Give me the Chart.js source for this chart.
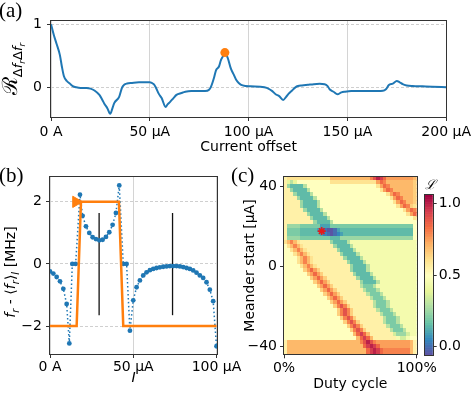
<!DOCTYPE html>
<html><head><meta charset="utf-8">
<script src="https://cdn.jsdelivr.net/npm/chart.js@4.4.1/dist/chart.umd.min.js"></script>
<style>
html,body{margin:0;padding:0;background:#fff;}
body{width:474px;height:394px;position:relative;overflow:hidden;font-family:'DejaVu Sans',sans-serif;}
canvas{position:absolute;}
.lbl{position:absolute;white-space:nowrap;color:#000;line-height:1;}
.panel{font-family:'Liberation Serif','DejaVu Serif',serif;font-size:21px;}
.rot{transform:translate(-50%,-50%) rotate(-90deg);transform-origin:center;}
sub{vertical-align:baseline;position:relative;top:0.35em;}
</style></head><body>
<canvas id="ca" width="474" height="160" style="left:0;top:0;width:474px;height:160px"></canvas>
<canvas id="cb" width="250" height="234" style="left:0;top:160px;width:250px;height:234px"></canvas>
<canvas id="cc" width="249" height="234" style="left:225px;top:160px;width:249px;height:234px"></canvas>
<canvas id="cbar" width="54" height="200" style="left:420px;top:175px;width:54px;height:200px"></canvas>
<div class="lbl panel" style="left:-1px;top:0px">(a)</div>
<div class="lbl panel" style="left:-1px;top:165px">(b)</div>
<div class="lbl panel" style="left:231px;top:165px">(c)</div>
<div class="lbl rot" style="left:10px;top:69px;font-size:21px;font-family:'DejaVu Serif',serif;">ℛ<sub style="font-size:13px;font-family:'DejaVu Sans',sans-serif;">Δ<i>f</i><sub style="font-size:9px"><i>r</i></sub>Δ<i>f</i><sub style="font-size:9px"><i>r</i></sub></sub></div>
<div class="lbl rot" style="left:10px;top:272px;font-size:14px;"><i>f</i><sub style="font-size:10px"><i>r</i></sub> - ⟨<i>f</i><sub style="font-size:10px"><i>r</i></sub>⟩<sub style="font-size:10px"><i>I</i></sub> [MHz]</div>
<div class="lbl" style="left:425px;top:178px;font-size:13px;font-family:'DejaVu Serif',serif;font-style:italic;">ℒ</div>
<script>
// ---------------- DATA ----------------
// (a) correlation vs current offset
const aOffset = [0,1.5,2.8,4.5,5.5,6.5,8,9.5,11,12.8,15,18,20,22,24.5,26,27,28.5,30,31,32,34.5,36,37,38.5,41,44.5,48,50,51,52,53,54.5,56,58,59,60.3,62,63.5,66,68,71,74.5,78,80,81,82.5,83.5,85,86,87,88,89.5,91,92.5,93.7,95,97,101,106,108,110,112,113.7,115.5,117.5,119,120.3,122,123.7,125,127,130,133,136,138.5,140,141,143,145,147,148.7,152,156,162,168,169.5,171,173,175,176.5,178,180,183,188,193,200];
const aR = [1.0,0.82,0.69,0.51,0.33,0.18,0.1,0.06,0.02,0,-0.01,-0.01,-0.02,-0.05,-0.12,-0.2,-0.26,-0.33,-0.42,-0.34,-0.25,-0.15,0,0.04,0.06,0.07,0.08,0.08,0.08,0.07,0.05,0,-0.1,-0.17,-0.31,-0.27,-0.23,-0.17,-0.12,-0.09,-0.07,-0.06,-0.06,-0.06,-0.04,0.01,0.15,0.27,0.33,0.43,0.49,0.55,0.46,0.3,0.2,0.12,0.07,0.03,0.015,0.01,0,-0.02,-0.06,-0.11,-0.14,-0.2,-0.15,-0.1,-0.05,0,0.02,0.03,0.04,0.05,0.055,0.05,0.02,-0.03,-0.07,-0.11,-0.08,-0.07,-0.06,-0.06,-0.06,-0.055,-0.03,0.035,0.06,0.1,0.08,0.05,0.03,0.02,0.015,0.01,0.0];
const aPeakOffset = [88];
const aPeakR = [0.55];
const aXTicks = [0,50,100,150,200];
const aXLabels = ['0 A','50 µA','100 µA','150 µA','200 µA'];
const aYTicks = [0,1];
const aYLabels = ['0','1'];

// (b) resonance shift vs current
const bCurrent = [0,2,4,6,8,10,11.6,13.4,15.4,18,19.6,21.6,23.6,25.6,27.6,29.6,31.6,33.6,35.6,37.6,39.6,41.6,44,46,48,50,52,54,56,58,60,62,64,66,68,70,72,74,76,78,80,82,84,86,88,90,92,94,96,98,100];
const bShift = [-0.24,-0.31,-0.42,-0.56,-0.8,-1.29,-2.56,0,0,2.23,1.55,1.21,1.0,0.86,0.8,0.76,0.78,0.87,1.02,1.26,1.64,2.53,0,0,-2.15,-1.17,-0.75,-0.53,-0.37,-0.27,-0.2,-0.16,-0.13,-0.11,-0.09,-0.08,-0.07,-0.07,-0.07,-0.08,-0.1,-0.13,-0.16,-0.21,-0.28,-0.37,-0.45,-0.59,-0.83,-1.2,-2.65];
const meanderI = [0,16,18.6,41.4,44,100];
const meanderF = [-2,-2,2,2,-2,-2];
const markerI = [15.6];
const markerF = [2];
const barI = [29.5,73.6];
const barLow = [-1.65,-1.65];
const barHigh = [1.64,1.64];
const bXTicks = [0,50,100];
const bXLabels = ['0 A','50 µA','100 µA'];
const bYTicks = [-2,0,2];
const bYLabels = ['\u22122','0','2'];

// (c) loss map: duty cycle (columns) x meander start (rows)
const dutyCenters = [1.25,3.75,6.25,8.75,11.25,13.75,16.25,18.75,21.25,23.75,26.25,28.75,31.25,33.75,36.25,38.75,41.25,43.75,46.25,48.75,51.25,53.75,56.25,58.75,61.25,63.75,66.25,68.75,71.25,73.75,76.25,78.75,81.25,83.75,86.25,88.75,91.25,93.75,96.25,98.75];
const startCenters = [44,42,40,38,36,34,32,30,28,26,24,22,20,18,16,14,12,10,8,6,4,2,0,-2,-4,-6,-8,-10,-12,-14,-16,-18,-20,-22,-24,-26,-28,-30,-32,-34,-36,-38,-40,-42];
// run-length rows: symbol + repeat count; symbol k in lossLevels means L = (k-1)/20
const lossLevels = '-0123456789ABCDEFGHIJK';
const lossRows = [
 'B C13 E12 G I K J H F8 E',
 'B 8 6 8 A10 C14 F H G E8 D',
 'B 5 34 6 A21 C F H G E7 D',
 'B2 5 34 6 A21 C F H G E6 D',
 'B3 5 34 6 A22 C F H G E4 D',
 'B4 5 34 6 A22 C F H G E3 D',
 'B5 5 34 6 A22 C F H G E2 D',
 'B5 5 34 6 A23 C F H G D C',
 'B6 5 34 6 A24 C F H G',
 'B7 5 34 6 A24 C F H',
 'B8 5 34 6 A25 C',
 'B9 5 34 6 A25',
 'B 54 46 23 425 A',
 'B 44 35 2 1 0 -2 0 2 322 A',
 'B 44 36 2 1 0 - 0 1 2 321 A',
 'B 54 49 33 522 A',
 'C E G E C B9 5 34 6 920',
 'A C E G E C B9 5 34 6 919',
 'A2 C E G E C B9 5 34 6 918',
 'A3 C E G E C B9 5 34 6 917',
 'A4 C E G E C B9 5 34 6 916',
 'A4 C E G E C B10 5 34 6 915',
 'A5 C E G E C B10 5 34 6 914',
 'A6 D F H F D B9 5 34 6 914',
 'A7 D F H F D B9 5 34 6 913',
 'A8 D F H F D B9 5 34 6 912',
 'A9 D F H F D B9 5 34 6 911',
 'A10 D F H F D B8 6 43 6 912',
 'A11 D F H F D B8 6 43 6 911',
 'A12 D F H F D B8 6 43 6 910',
 'A13 D F H F D B8 6 43 6 99',
 'A14 D F H F D B8 6 43 6 98',
 'A15 D G I G D B7 6 43 6 98',
 'A16 D G I G D B7 6 43 6 97',
 'A16 D G I G D B8 6 43 6 96',
 'A17 D G I G D B8 6 43 6 95',
 'A18 D G I G D B7 6 43 6 95',
 'A19 D G I G D B7 6 43 6 94',
 'A20 D G I G D B7 6 43 6 93',
 'A21 E H J H E B7 7 53 7 92',
 'A22 E H J H E B7 9 72 9 A2',
 'B E22 G I K I G F10 E B',
 'B E23 H J K J H F9 E B',
 'B E24 H J K J H G8 E B'
];
const bestDuty = [28.4];
const bestStart = [17.8];
const cXTicks = [0,100];
const cXLabels = ['0%','100%'];
const cYTicks = [-40,0,40];
const cYLabels = ['\u221240','0','40'];
const barTicks = [0,0.5,1.0];
const barLabels = ['0.0','0.5','1.0'];
const L_MIN = -0.06, L_MAX = 1.06;

// ---------------- HELPERS ----------------
function decodeRow(s){
  const out = [];
  s.trim().split(/\s+/).forEach(tok => {
    const sym = tok[0];
    const n = tok.length > 1 ? parseInt(tok.slice(1),10) : 1;
    const v = (lossLevels.indexOf(sym) - 1) / 20;
    for (let i=0;i<n;i++) out.push(v);
  });
  return out;
}
const spectral = ['#9e0142','#d53e4f','#f46d43','#fdae61','#fee08b','#ffffbf','#e6f598','#abdda4','#66c2a5','#3288bd','#5e4fa2'];
const specRGB = spectral.map(h => [parseInt(h.slice(1,3),16),parseInt(h.slice(3,5),16),parseInt(h.slice(5,7),16)]);
function cmap(v){
  if (!isFinite(v)) return 'rgba(0,0,0,0)';
  let t = (v - L_MIN)/(L_MAX - L_MIN);
  t = Math.max(0, Math.min(1, t));
  const u = (1 - t) * 10; // reversed Spectral
  const i = Math.min(9, Math.floor(u)), f = u - i;
  const a = specRGB[i], b = specRGB[i+1];
  return 'rgb(' + [0,1,2].map(k => Math.round(a[k] + (b[k]-a[k])*f)).join(',') + ')';
}

Chart.defaults.font.family = "'DejaVu Sans', sans-serif";
Chart.defaults.font.size = 14;
Chart.defaults.color = '#000';
Chart.defaults.animation = false;

const frame = {id:'frame', afterDatasetsDraw(chart){
  const a = chart.chartArea, ctx = chart.ctx;
  ctx.save(); ctx.strokeStyle = '#333'; ctx.lineWidth = 1;
  const l = Math.round(a.left)-0.5, t = Math.round(a.top)-0.5, r = Math.round(a.right)+0.5, b = Math.round(a.bottom)+0.5;
  ctx.strokeRect(l, t, r-l, b-t); ctx.restore();
}};

function axis(o){
  return {
    type:'linear', min:o.min, max:o.max, position:o.pos, display: o.display !== false,
    afterBuildTicks: s => { s.ticks = o.ticks.map(v => ({value:v})); },
    afterFit: s => { if (o.w != null) s.width = o.w; if (o.h != null) s.height = o.h; },
    ticks:{ callback:(v,i) => o.labels[i], padding:o.pad, maxRotation:0, minRotation:0, autoSkip:false, font:{size:14}, color:'#000' },
    grid:{ display:true, drawOnChartArea: !!o.grid, color:o.gridColor || '#d4d4d4', lineWidth:1, drawTicks:true, tickLength:4, tickColor:'#333', tickWidth:1, tickBorderDash:[] },
    border:{ display:false, dash:o.dash || [] },
    title: o.title ? {display:true, text:o.title, font:{size:14, style:o.italic ? 'italic' : 'normal'}, color:'#000', padding:o.tpad} : {display:false}
  };
}

// ---------------- (a) ----------------
new Chart(document.getElementById('ca'), {
  type:'scatter',
  data:{ datasets:[
    { data: aPeakOffset.map((x,i) => ({x, y:aPeakR[i]})), pointRadius:4.5, pointBackgroundColor:'#ff7f0e', pointBorderWidth:0, showLine:false },
    { data: aOffset.map((x,i) => ({x, y:aR[i]})), showLine:true, borderColor:'#1f77b4', borderWidth:2, pointRadius:0, cubicInterpolationMode:'monotone' }
  ]},
  options:{
    responsive:false, events:[],
    plugins:{legend:{display:false}, tooltip:{enabled:false}},
    layout:{padding:{left:0, right:24, top:21, bottom:0}},
    scales:{
      x: axis({min:0, max:200, pos:'bottom', ticks:aXTicks, labels:aXLabels, pad:3, grid:true, h:43, title:'Current offset', tpad:{top:0,bottom:4}}),
      y: axis({min:-0.47, max:1.05, pos:'left', ticks:aYTicks, labels:aYLabels, pad:5, grid:true, dash:[3,2], gridColor:'#cfcfcf', w:51})
    }
  },
  plugins:[frame]
});

// ---------------- (b) ----------------
new Chart(document.getElementById('cb'), {
  type:'scatter',
  data:{ datasets:[
    { data: markerI.map((x,i) => ({x, y:markerF[i]})), pointStyle:'triangle', rotation:90, pointRadius:6.5, pointBackgroundColor:'#ff7f0e', pointBorderColor:'#ff7f0e', showLine:false },
    { data: meanderI.map((x,i) => ({x, y:meanderF[i]})), showLine:true, borderColor:'#ff7f0e', borderWidth:2.5, pointRadius:0 },
    { data: bCurrent.map((x,i) => ({x, y:bShift[i]})), showLine:true, borderColor:'#1f77b4', borderWidth:1.5, borderDash:[1.5,2.5], pointRadius:2.4, pointBackgroundColor:'#1f77b4', pointBorderWidth:0 },
    { data: [{x:barI[0], y:barLow[0]},{x:barI[0], y:barHigh[0]}], showLine:true, borderColor:'#111', borderWidth:1.3, pointRadius:0 },
    { data: [{x:barI[1], y:barLow[1]},{x:barI[1], y:barHigh[1]}], showLine:true, borderColor:'#111', borderWidth:1.3, pointRadius:0 }
  ]},
  options:{
    responsive:false, events:[],
    plugins:{legend:{display:false}, tooltip:{enabled:false}},
    layout:{padding:{left:0, right:33, top:17, bottom:0}},
    scales:{
      x: axis({min:0, max:100.3, pos:'bottom', ticks:bXTicks, labels:bXLabels, pad:1, grid:true, h:40, title:'I', italic:true, tpad:{top:0,bottom:7}}),
      y: axis({min:-2.9, max:2.8, pos:'left', ticks:bYTicks, labels:bYLabels, pad:4, grid:true, dash:[3,2], gridColor:'#cfcfcf', w:50})
    }
  },
  plugins:[frame]
});

// ---------------- (c) ----------------
const heatmap = {id:'heatmap', beforeDatasetsDraw(chart){
  const {ctx, chartArea:a, scales:{x, y}} = chart;
  ctx.save(); ctx.beginPath(); ctx.rect(a.left, a.top, a.right-a.left, a.bottom-a.top); ctx.clip();
  const dw = (dutyCenters[1]-dutyCenters[0])/2, dh = Math.abs(startCenters[0]-startCenters[1])/2;
  startCenters.forEach((s, r) => {
    const row = decodeRow(lossRows[r]);
    const y0 = y.getPixelForValue(s + dh);
    const y1 = y.getPixelForValue(r === startCenters.length-1 ? s - 3*dh : s - dh);
    dutyCenters.forEach((d, c) => {
      const x0 = x.getPixelForValue(d - dw), x1 = x.getPixelForValue(d + dw);
      ctx.fillStyle = cmap(row[c]);
      ctx.fillRect(Math.floor(x0), Math.floor(y0), Math.ceil(x1)-Math.floor(x0), Math.ceil(y1)-Math.floor(y0));
    });
  });
  ctx.restore();
}};
new Chart(document.getElementById('cc'), {
  type:'scatter',
  data:{ datasets:[
    { data: bestDuty.map((x,i) => ({x, y:bestStart[i]})), pointStyle:'star', pointRadius:4, pointBorderColor:'#e41a1c', pointBorderWidth:1.6, showLine:false }
  ]},
  options:{
    responsive:false, events:[],
    plugins:{legend:{display:false}, tooltip:{enabled:false}},
    layout:{padding:{left:0, right:57.3, top:16.7, bottom:0}},
    scales:{
      x: axis({min:0, max:100, pos:'bottom', ticks:cXTicks, labels:cXLabels, pad:2, grid:false, h:39.7, title:'Duty cycle', tpad:{top:0,bottom:1}}),
      y: axis({min:-43.8, max:45, pos:'left', ticks:cYTicks, labels:cYLabels, pad:3, grid:false, w:59, title:'Meander start [μA]', tpad:{top:17,bottom:0}})
    }
  },
  plugins:[heatmap, frame]
});

// ---------------- colorbar ----------------
const cbarFill = {id:'cbarFill', beforeDatasetsDraw(chart){
  const {ctx, chartArea:a, scales:{y}} = chart;
  const n = 224;
  for (let i=0;i<n;i++){
    const v0 = L_MIN + (L_MAX-L_MIN)*i/n, v1 = L_MIN + (L_MAX-L_MIN)*(i+1)/n;
    const p0 = y.getPixelForValue(v0), p1 = y.getPixelForValue(v1);
    ctx.fillStyle = cmap((v0+v1)/2);
    ctx.fillRect(a.left, p1, a.right-a.left, p0-p1+0.6);
  }
}};
new Chart(document.getElementById('cbar'), {
  type:'scatter',
  data:{ datasets:[] },
  options:{
    responsive:false, events:[],
    plugins:{legend:{display:false}, tooltip:{enabled:false}},
    layout:{padding:{left:5, right:0, top:20, bottom:20}},
    scales:{
      x: {type:'linear', min:0, max:1, display:false},
      y: axis({min:L_MIN, max:L_MAX, pos:'right', ticks:barTicks, labels:barLabels, pad:2, grid:false, w:41.3})
    }
  },
  plugins:[cbarFill, frame]
});
</script>
</body></html>
